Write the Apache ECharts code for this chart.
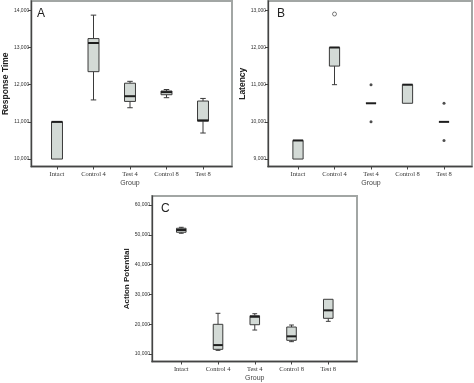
<!DOCTYPE html>
<html>
<head>
<meta charset="utf-8">
<script src="https://cdn.jsdelivr.net/npm/echarts@6/dist/echarts.min.js"></script>
<style>
html,body{margin:0;padding:0;background:#fff;}
#chart{width:474px;height:383px;}
</style>
</head>
<body>
<div id="chart"></div>
<script>
// ---- data ----
const categories = ['Intact', 'Control 4', 'Test 4', 'Control 8', 'Test 8'];

// boxes: [min, Q1, median, Q3, max]
const responseTimeBoxes = [
  [10000, 10000, 11000, 11000, 11000],
  [11590, 12350, 13120, 13240, 13870],
  [11380, 11550, 11690, 12040, 12090],
  [11650, 11730, 11800, 11830, 11870],
  [10700, 11020, 11040, 11560, 11630]
];
const latencyBoxes = [
  [9000, 9000, 9500, 9500, 9500],
  [11000, 11500, 12000, 12000, 12000],
  [10500, 10500, 10500, 10500, 10500],
  [10500, 10500, 11000, 11000, 11000],
  [10000, 10000, 10000, 10000, 10000]
];
const latencyOutliers = [[1, 12900]];
const latencyExtremes = [[2, 11000], [2, 10000], [4, 10500], [4, 9500]];
const actionPotentialBoxes = [
  [50500, 50840, 51600, 52180, 52500],
  [11240, 11580, 13000, 19970, 23660],
  [18050, 19830, 22500, 22850, 23520],
  [14150, 14600, 15940, 19060, 19730],
  [20970, 21980, 24660, 28360, 28360]
];

const ticksA = [10000, 11000, 12000, 13000, 14000];
const ticksB = [9000, 10000, 11000, 12000, 13000];
const ticksC = [10000, 20000, 30000, 40000, 50000, 60000];

// ---- layout ----
const panels = [
  { letter: 'A', yName: 'Response Time', boxes: responseTimeBoxes, ticks: ticksA, min: 9800, max: 14250,
    frame: { left: 28, top: 1, width: 204, height: 165.5 },
    data: { left: 38.75, top: 1, width: 182.5, height: 165.5 }, nameGap: 17, nameSize: 8.5, boxFrac: 0.3 },
  { letter: 'B', yName: 'Latency', boxes: latencyBoxes, ticks: ticksB, min: 8800, max: 13250,
    frame: { left: 268, top: 1, width: 204, height: 165.5 },
    data: { left: 279.75, top: 1, width: 182.5, height: 165.5 }, nameGap: 19, nameSize: 8.5, boxFrac: 0.28 },
  { letter: 'C', yName: 'Action Potential', boxes: actionPotentialBoxes, ticks: ticksC, min: 7500, max: 63000,
    frame: { left: 152, top: 196, width: 205, height: 165.5 },
    data: { left: 162.9, top: 196, width: 183.75, height: 165.5 }, nameGap: 20, nameSize: 8, boxFrac: 0.26 }
];

const STROKE = '#3a3a3a';
const FILL = '#d3dad6';
const fmt = v => v.toLocaleString('en-US') ;

function makeRender(frac) {
  return function (params, api) {
    const i = api.value(0);
    const p = [1, 2, 3, 4, 5].map(k => api.coord([i, api.value(k)]));
    const band = api.size([1, 0])[0];
    const w = band * frac;
    const cx = p[0][0];
    const ch = [];
    const ln = (x1, y1, x2, y2, lw, c) => ({ type: 'line', shape: { x1, y1, x2, y2 }, style: { stroke: c || STROKE, lineWidth: lw || 1 } });
    if (p[3][1] - p[4][1] > 0.5) {
      ch.push(ln(cx, p[3][1], cx, p[4][1]));
      ch.push(ln(cx - w / 4, p[4][1], cx + w / 4, p[4][1]));
    }
    if (p[0][1] - p[1][1] > 0.5) {
      ch.push(ln(cx, p[1][1], cx, p[0][1]));
      ch.push(ln(cx - w / 4, p[0][1], cx + w / 4, p[0][1]));
    }
    if (p[1][1] - p[3][1] > 0.5) {
      ch.push({ type: 'rect', shape: { x: cx - w / 2, y: p[3][1], width: w, height: p[1][1] - p[3][1] },
        style: { fill: FILL, stroke: STROKE, lineWidth: 1 } });
    }
    ch.push(ln(cx - w / 2, p[2][1], cx + w / 2, p[2][1], 2, '#1e1e1e'));
    return { type: 'group', children: ch };
  };
}

const grid = [], xAxis = [], yAxis = [], series = [], title = [];
panels.forEach((pn, k) => {
  const gf = 2 * k, gd = 2 * k + 1;
  grid.push(Object.assign({ show: true, borderColor: '#a2a6a4', borderWidth: 2, backgroundColor: '#fff' }, pn.frame));
  grid.push(Object.assign({}, pn.data));
  // frame axes
  xAxis.push({ gridIndex: gf, type: 'value', min: 0, max: 1,
    axisLine: { show: true, lineStyle: { color: '#444', width: 1.3 } },
    axisTick: { show: false }, axisLabel: { show: false }, splitLine: { show: false } });
  yAxis.push({ gridIndex: gf, type: 'value', min: pn.min, max: pn.max,
    name: pn.yName, nameLocation: 'middle', nameGap: pn.nameGap,
    nameTextStyle: { fontSize: pn.nameSize, fontWeight: 'bold', fontFamily: 'Liberation Sans', color: '#222' },
    axisLine: { show: true, lineStyle: { color: '#444', width: 1.3 } },
    axisTick: { show: true, length: 3, customValues: pn.ticks, lineStyle: { color: '#444' } },
    axisLabel: { show: true, customValues: pn.ticks, formatter: fmt, fontSize: 5, margin: 2,
      fontFamily: 'Liberation Sans', color: '#333' },
    splitLine: { show: false } });
  // data axes
  xAxis.push({ gridIndex: gd, type: 'category', data: categories,
    name: 'Group', nameLocation: 'middle', nameGap: 13,
    nameTextStyle: { fontSize: 7, fontFamily: 'Liberation Sans', color: '#444' },
    axisLine: { show: false },
    axisTick: { show: true, alignWithLabel: true, length: 3, lineStyle: { color: '#444' } },
    axisLabel: { fontSize: 6.5, fontFamily: 'Liberation Serif', color: '#333', margin: 4 },
    splitLine: { show: false } });
  yAxis.push({ gridIndex: gd, type: 'value', min: pn.min, max: pn.max, show: false });
  series.push({ type: 'custom', xAxisIndex: gd, yAxisIndex: gd,
    renderItem: makeRender(pn.boxFrac), encode: { x: 0, y: [1, 2, 3, 4, 5] },
    data: pn.boxes.map((b, i) => [i].concat(b)), z: 5 });
  title.push({ text: pn.letter, left: pn.frame.left + 4, top: pn.frame.top + 2,
    textStyle: { fontSize: 12, fontWeight: 'normal', fontFamily: 'Liberation Sans', color: '#222' } });
});

series.push({ type: 'scatter', xAxisIndex: 3, yAxisIndex: 3, data: latencyOutliers,
  symbol: 'circle', symbolSize: 4, z: 6,
  itemStyle: { color: '#fff', borderColor: '#333', borderWidth: 0.8 } });
series.push({ type: 'scatter', xAxisIndex: 3, yAxisIndex: 3, data: latencyExtremes,
  symbol: 'circle', symbolSize: 3, z: 6,
  itemStyle: { color: '#222' } });

const chart = echarts.init(document.getElementById('chart'), null, { renderer: 'canvas' });
chart.setOption({ animation: false, backgroundColor: '#fff', title, grid, xAxis, yAxis, series });
</script>
</body>
</html>
